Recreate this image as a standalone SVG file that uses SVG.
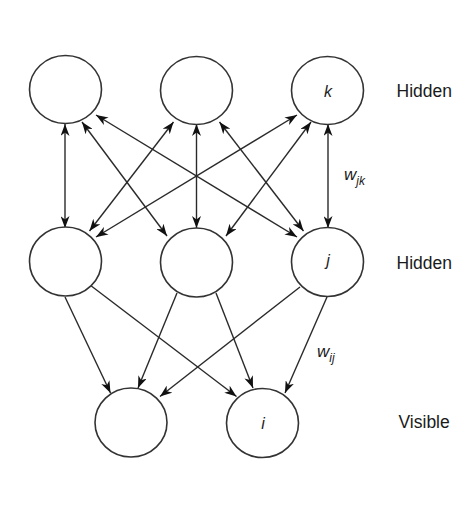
<svg xmlns="http://www.w3.org/2000/svg" width="474" height="528" viewBox="0 0 474 528">
<style>
.node{fill:#fff;stroke:#333;stroke-width:1.6}
.lbl{font-family:"Liberation Sans",Arial,sans-serif;font-style:italic;font-size:16px;fill:#222}
.layer{font-family:"Liberation Sans",Arial,sans-serif;font-size:17.5px;fill:#1a1a1a}
.w{font-family:"Liberation Sans",Arial,sans-serif;font-style:italic;font-size:17px;fill:#1a1a1a}
.sub{font-size:12px}
.edge line{stroke:#2a2a2a;stroke-width:1.4;fill:none}
.bi{marker-start:url(#ah);marker-end:url(#ah)}
.uni{marker-end:url(#ah)}
</style>
<defs>
<marker id="ah" markerUnits="userSpaceOnUse" markerWidth="13" markerHeight="9" refX="12" refY="4.5" orient="auto-start-reverse" viewBox="0 0 13 9">
<path d="M0,0 L12,4.5 L0,9 L3.5,4.5 z" fill="#111"/>
</marker>
</defs>
<rect width="474" height="528" fill="#fff"/>
<g id="connectors" class="edge">
<line class="bi" x1="65" y1="124" x2="65" y2="228"/>
<line class="bi" x1="82" y1="122" x2="167" y2="236"/>
<line class="bi" x1="96" y1="115" x2="297" y2="237"/>
<line class="bi" x1="173.5" y1="122" x2="89.5" y2="231"/>
<line class="bi" x1="196.5" y1="124" x2="196.5" y2="228"/>
<line class="bi" x1="219.5" y1="122" x2="303.5" y2="231"/>
<line class="bi" x1="297" y1="115" x2="96" y2="237"/>
<line class="bi" x1="311" y1="122" x2="226" y2="236"/>
<line class="bi" x1="328" y1="124" x2="328" y2="228"/>
<line class="uni" x1="65" y1="297" x2="110.5" y2="393"/>
<line class="uni" x1="90" y1="285" x2="236.5" y2="396.5"/>
<line class="uni" x1="177" y1="293" x2="138" y2="388"/>
<line class="uni" x1="216" y1="293" x2="253" y2="388"/>
<line class="uni" x1="300" y1="287" x2="160" y2="396.5"/>
<line class="uni" x1="327" y1="297" x2="285" y2="393"/>
</g>
<g id="h2a"><ellipse class="node" cx="65.5" cy="89.5" rx="36" ry="34"/></g>
<g id="h2b"><ellipse class="node" cx="196.5" cy="90.5" rx="36" ry="34"/></g>
<g id="h2k"><ellipse class="node" cx="327.5" cy="90.5" rx="36" ry="34"/><text class="lbl" x="328" y="97" text-anchor="middle">k</text></g>
<g id="h1a"><ellipse class="node" cx="65.5" cy="261.5" rx="36" ry="34.5"/></g>
<g id="h1b"><ellipse class="node" cx="196.5" cy="262.5" rx="36" ry="34.5"/></g>
<g id="h1j"><ellipse class="node" cx="327.5" cy="262" rx="36" ry="34.5"/><text class="lbl" x="328" y="266" text-anchor="middle">j</text></g>
<g id="va"><ellipse class="node" cx="131" cy="422.5" rx="36" ry="34.5"/></g>
<g id="vi"><ellipse class="node" cx="262.5" cy="423" rx="36" ry="34.5"/><text class="lbl" x="263" y="429" text-anchor="middle">i</text></g>
<g id="labels">
<text class="layer" x="396.5" y="97">Hidden</text>
<text class="layer" x="396.5" y="269">Hidden</text>
<text class="layer" x="398.5" y="428">Visible</text>
<text class="w" x="344" y="180">w<tspan class="sub" dy="5">jk</tspan></text>
<text class="w" x="317" y="357">w<tspan class="sub" dy="5">ij</tspan></text>
</g>
</svg>
